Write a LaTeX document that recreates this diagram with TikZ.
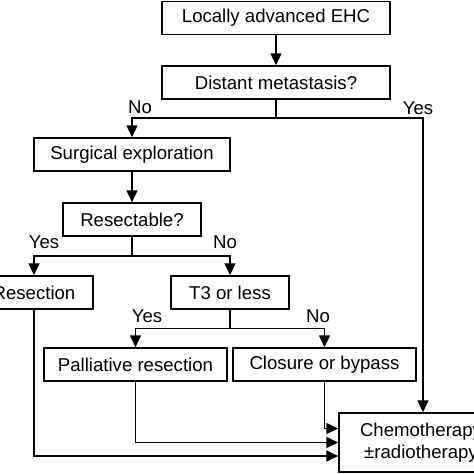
\documentclass[tikz,border=0pt]{standalone}
\usepackage{fontspec}
\setmainfont{Liberation Sans}
\usetikzlibrary{arrows.meta,positioning,calc}
\tikzset{
  fbox/.style={draw, line width=1.5pt, inner sep=0pt, font=\fontsize{18.6}{22}\selectfont,
               minimum width=#1, minimum height=33pt, align=center},
  flink/.style={line width=1.5pt},
  farrow/.style={line width=1.5pt, -{Triangle[length=12pt, width=11pt]}},
  flabel/.style={font=\fontsize{18.6}{22}\selectfont, inner sep=0pt},
}

\begin{document}
\begin{tikzpicture}[x=1pt, y=-1pt]
  \useasboundingbox (0,0) rectangle (474,474);
  \clip (0,0) rectangle (474,474);
  % Boxes
  \node[fbox=228pt] (ehc) at (276,18) {Locally advanced EHC};
  \node[fbox=228pt] (meta) at (276,82.5) {Distant metastasis?};
  \node[fbox=196pt] (explore) at (132,154.5) {Surgical exploration};
  \node[fbox=138pt] (resectable) at (132,219.5) {Resectable?};
  \node[fbox=118pt] (resection) at (34,292.5) {Resection};
  \node[fbox=118pt] (tthree) at (230,292.5) {T3 or less};
  \node[fbox=183pt] (palliative) at (135.5,364.5) {Palliative resection};
  \node[fbox=183pt] (bypass) at (324.5,364.5) {Closure or bypass};
  \node[fbox=164pt, minimum height=59pt] (chemo) at (421,442.5) {Chemotherapy\\±radiotherapy};

  % Split points
  \coordinate (metasplit) at (276,118);
  \coordinate (ressplit) at (132,256);
  \coordinate (tsplit) at (230,328.5);

  % Connectors
  \draw[farrow] (ehc) -- (meta);
  \draw[flink] (meta) -- (metasplit);
  \draw[farrow] (metasplit) -| (explore.north);
  \draw[farrow] (metasplit) -| ([xshift=2pt]chemo.north);
  \draw[farrow] (explore) -- (resectable);
  \draw[flink] (resectable) -- (ressplit);
  \draw[farrow] (ressplit) -| (resection.north);
  \draw[farrow] (ressplit) -| (tthree.north);
  \draw[flink] (tthree) -- (tsplit);
  \draw[farrow] (tsplit) -| (palliative.north);
  \draw[farrow] (tsplit) -| (bypass.north);
  \draw[farrow] (bypass.south) |- ([yshift=14pt]chemo.west);
  \draw[farrow] (palliative.south) |- (chemo.west);
  \draw[farrow] (resection.south) |- ([yshift=-13.5pt]chemo.west);

  % Branch labels
  \node[flabel] (metano) at (140,107) {No};
  \node[flabel] (metayes) at (418,108) {Yes};
  \node[flabel] (resyes) at (44,242) {Yes};
  \node[flabel] (resno) at (225,242) {No};
  \node[flabel] (tyes) at (147,316) {Yes};
  \node[flabel] (tno) at (318,316) {No};
\end{tikzpicture}
\end{document}
